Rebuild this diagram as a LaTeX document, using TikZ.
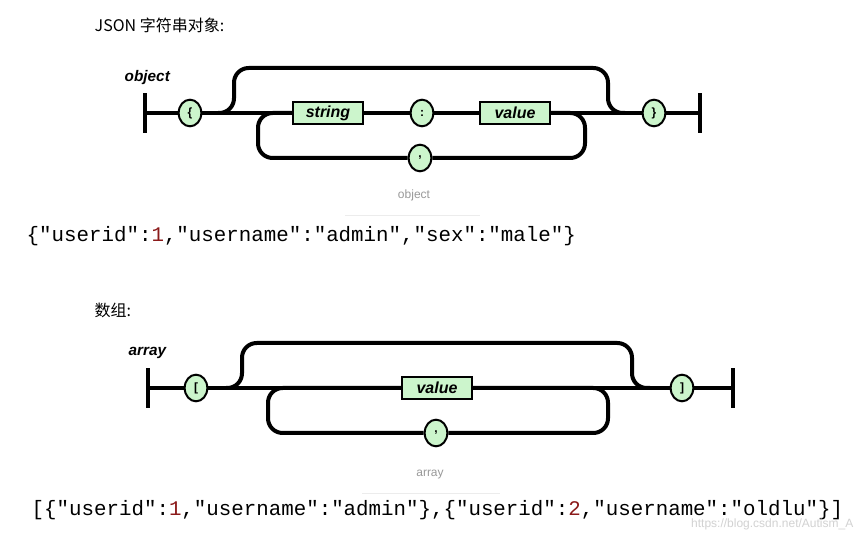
\documentclass[tikz,border=0pt]{standalone}
\usepackage{fontspec}
\setmainfont{Liberation Sans}
\setsansfont{Liberation Sans}
\newfontfamily\cjk{Noto Sans CJK SC}
\newfontfamily\mono{Liberation Mono}
\usetikzlibrary{shapes.geometric}
\definecolor{lg}{HTML}{CCF5CC}
\definecolor{jsred}{HTML}{8B1A1A}
\tikzset{
 rail/.style={line width=3pt},
 term/.style={ellipse,draw,line width=1.5pt,fill=lg,minimum width=17pt,minimum height=20pt,inner sep=0pt,font=\sffamily\bfseries\small},
 nt/.style={rectangle,draw,line width=1.5pt,fill=lg,minimum width=52pt,minimum height=17pt,inner sep=0pt,font=\sffamily\bfseries\itshape\fontsize{12}{14}\selectfont},
 captxt/.style={font=\sffamily\small,text=gray!80},
 code/.style={font=\mono\fontsize{15.6}{17}\selectfont,anchor=west}
}
\begin{document}
\begin{tikzpicture}[x=0.75pt,y=-0.75pt]
\useasboundingbox[fill=white] (0,0) rectangle (865,538);
% headings
\node[anchor=west,font=\cjk\fontsize{12}{14}\selectfont] (h1) at (90,25) {JSON 字符串对象:};
\node[anchor=west,font=\cjk\fontsize{12}{14}\selectfont] (h2) at (90,310) {数组:};
% ---------- object ----------
\node[anchor=west,font=\sffamily\bfseries\itshape\fontsize{11.5}{13}\selectfont] (olab) at (120,78) {object};
\coordinate (ol) at (145,113); \coordinate (or) at (700,113);
\node[term] (lb) at (190,113) {\{};
\node[nt] (str) at (328,113) {string};
\node[term] (col) at (422,113) {:};
\node[nt] (val) at (515,113) {value};
\node[term] (com) at (420,158) {,};
\node[term] (rb) at (654,113) {\}};
\draw[rail] ([yshift=-15]ol) -- ([yshift=15]ol);
\draw[rail] ([yshift=-15]or) -- ([yshift=15]or);
\draw[rail] (ol) -- (lb);
\draw[rail] (lb) -- (str);
\draw[rail] (str) -- (col);
\draw[rail] (col) -- (val);
\draw[rail] (val) -- (rb);
\draw[rail] (rb) -- (or);
\draw[rail,rounded corners=11] (218,113) -| (234,68) -| (608,113) -- (625,113);
\draw[rail,rounded corners=11] (val.east) -| (585,158) -- (com);
\draw[rail,rounded corners=11] (com) -| (258,113) -- (str.west);
\node[captxt] (ocap) at (414,195) {object};
\draw[gray!15,line width=0.6pt] (345,215) -- (480,215);
\node[code] (oj) at (22,236) {\{"userid":\textcolor{jsred}{1},"username":"admin","sex":"male"\}};
% ---------- array ----------
\node[anchor=west,font=\sffamily\bfseries\itshape\fontsize{11.5}{13}\selectfont] (alab) at (124,353) {array};
\coordinate (al) at (148,388); \coordinate (ar) at (733,388);
\node[term] (lk) at (196,388) {[};
\node[nt] (aval) at (437,388) {value};
\node[term] (acom) at (436,433) {,};
\node[term] (rk) at (682,388) {]};
\draw[rail] ([yshift=-15]al) -- ([yshift=15]al);
\draw[rail] ([yshift=-15]ar) -- ([yshift=15]ar);
\draw[rail] (al) -- (lk);
\draw[rail] (lk) -- (aval);
\draw[rail] (aval) -- (rk);
\draw[rail] (rk) -- (ar);
\draw[rail,rounded corners=11] (226,388) -| (242,343) -| (632,388) -- (650,388);
\draw[rail,rounded corners=11] (aval.east) -| (608,433) -- (acom);
\draw[rail,rounded corners=11] (acom) -| (268,388) -- (aval.west);
\node[captxt] (acap) at (430,475) {array};
\draw[gray!15,line width=0.6pt] (362,493) -- (500,493);
\node[code] (aj) at (27,510) {[\{"userid":\textcolor{jsred}{1},"username":"admin"\},\{"userid":\textcolor{jsred}{2},"username":"oldlu"\}]};
\node[anchor=east,font=\sffamily\small,text=gray!35] (wm) at (858,524) {https://blog.csdn.net/Autism\_A};
\end{tikzpicture}
\end{document}
